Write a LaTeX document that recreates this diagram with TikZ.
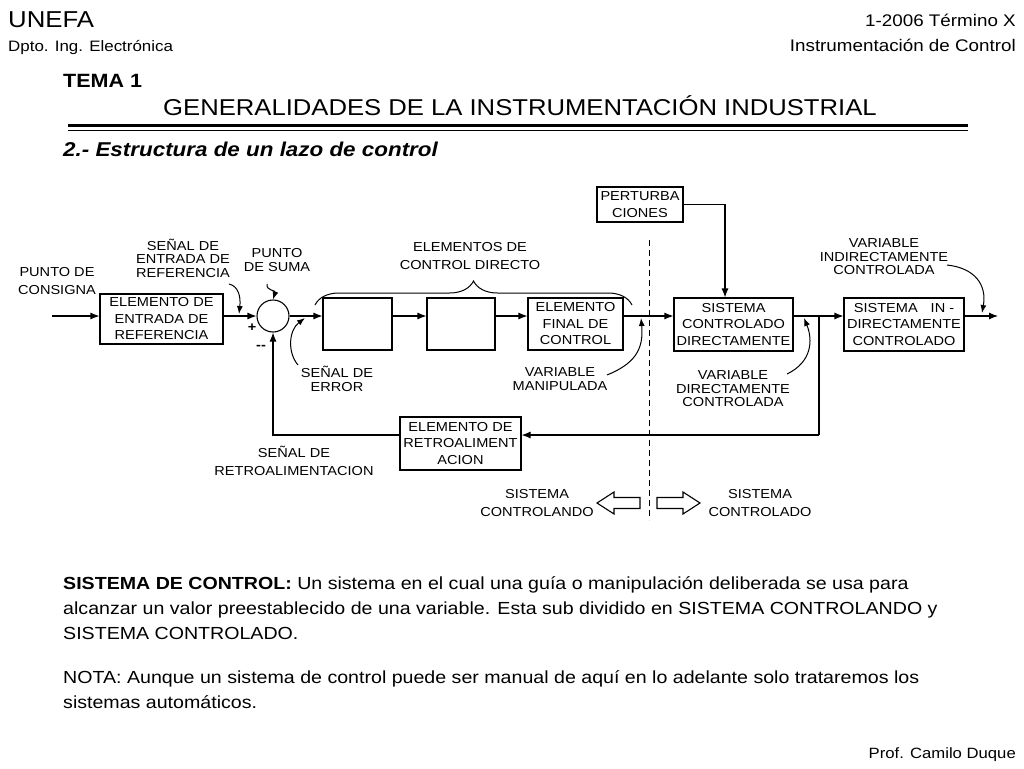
\documentclass[tikz,border=0pt]{standalone}
\usepackage{fontspec}
\setmainfont{Liberation Sans}[FakeStretch=1.12]
\usetikzlibrary{arrows.meta,decorations.pathreplacing}

\tikzset{
  lzbox/.style={draw, line width=1.1pt, inner sep=0pt, align=center, font=\fontsize{13}{16.5}\selectfont},
  lzlabel/.style={inner sep=0pt, align=center, font=\fontsize{13}{13.5}\selectfont},
  lzwide/.style={lzlabel, font=\fontsize{13}{17.5}\selectfont},
  lzedge/.style={line width=1.1pt},
  lzarrow/.style={lzedge, -{Latex[length=9pt, width=7pt]}},
  lzcurve/.style={line width=1pt, -{Latex[length=8pt, width=6pt]}},
  lztext/.style={anchor=base west, inner sep=0pt},
  lzright/.style={anchor=base east, inner sep=0pt},
  lzsign/.style={inner sep=0pt, font=\bfseries\fontsize{13}{13}\selectfont},
  lzpar/.style={lztext, font=\fontsize{17.5}{18}\selectfont}
}

\begin{document}
\begin{tikzpicture}[x=1pt, y=-1pt]
\useasboundingbox (0,0) rectangle (1024,768);

\node[lztext, font=\fontsize{23}{23}\selectfont] (unefa) at (8,28) {UNEFA};
\node[lztext, font=\fontsize{15.1}{15}\selectfont] (dpto) at (8,52) {Dpto. Ing. Electrónica};
\node[lzright, font=\fontsize{16.8}{17}\selectfont] (term) at (1016,27) {1-2006 Término X};
\node[lzright, font=\fontsize{16.8}{17}\selectfont] (curso) at (1016,52) {Instrumentación de Control};
\node[lztext, font=\bfseries\fontsize{19.2}{20}\selectfont] (tema) at (63,87) {TEMA 1};
\node[lztext, font=\fontsize{22.9}{24}\selectfont] (titulo) at (163,115) {GENERALIDADES DE LA INSTRUMENTACIÓN INDUSTRIAL};
\coordinate (rla) at (68,125.5);
\coordinate (rlb) at (968,125.5);
\coordinate (rlc) at (68,130.5);
\coordinate (rld) at (968,130.5);
\draw[line width=3.5pt] (rla) -- (rlb);
\draw[line width=1.2pt] (rlc) -- (rld);
\node[lztext, font=\bfseries\itshape\fontsize{20}{20}\selectfont] (sub) at (63,156) {2.- Estructura de un lazo de control};

\node[lzbox, minimum width=123pt, minimum height=50pt] (refin) at (161.5,319) {ELEMENTO DE\\ENTRADA DE\\REFERENCIA};
\node[draw, circle, line width=1.1pt, minimum size=32pt, inner sep=0pt] (sum) at (273,316) {};
\node[lzbox, minimum width=69pt, minimum height=52pt] (ctrla) at (357.5,324) {};
\node[lzbox, minimum width=68pt, minimum height=52pt] (ctrlb) at (461,324) {};
\node[lzbox, minimum width=95pt, minimum height=52pt] (fce) at (575.5,324) {ELEMENTO\\FINAL DE\\CONTROL};
\node[lzbox, minimum width=86pt, minimum height=35pt] (pert) at (640,204.5) {PERTURBA\\CIONES};
\node[lzbox, minimum width=119pt, minimum height=53pt] (plant) at (733.5,324.5) {SISTEMA\\CONTROLADO\\DIRECTAMENTE};
\node[lzbox, minimum width=120pt, minimum height=53pt] (plantb) at (904,324.5) {SISTEMA\quad IN -\\DIRECTAMENTE\\CONTROLADO};
\node[lzbox, minimum width=121pt, minimum height=53pt] (fbk) at (460.5,443.5) {ELEMENTO DE\\RETROALIMENT\\ACION};

\node[lzwide] (consigna) at (57,281) {PUNTO DE\\CONSIGNA};
\node[lzlabel] (lblref) at (183,258) {SEÑAL DE\\ENTRADA DE\\REFERENCIA};
\node[lzlabel] (lblsum) at (277,260) {PUNTO\\DE SUMA};
\node[lzwide] (lblctrl) at (470,256) {ELEMENTOS DE\\CONTROL DIRECTO};
\node[lzlabel] (lblerr) at (337,379) {SEÑAL DE\\ERROR};
\node[lzlabel] (lblman) at (560,379) {VARIABLE\\MANIPULADA};
\node[lzlabel] (lbldir) at (733,389) {VARIABLE\\DIRECTAMENTE\\CONTROLADA};
\node[lzlabel] (lblind) at (884,257) {VARIABLE\\INDIRECTAMENTE\\CONTROLADA};
\node[lzwide] (lblfb) at (294,461) {SEÑAL DE\\RETROALIMENTACION};
\node[lzwide] (lblcnd) at (537,503) {SISTEMA\\CONTROLANDO};
\node[lzwide] (lblcdo) at (760,503) {SISTEMA\\CONTROLADO};
\node[lzsign] (plus) at (252,328) {+};
\node[lzsign] (minus) at (261,347) {-{}-};

\coordinate (in) at (52,316);
\coordinate (br) at (819,316);
\coordinate (fbin) at (819,435);
\coordinate (pt) at (725,204.5);
\coordinate (out) at (998,316);

\draw[lzarrow] (in) -- (in -| refin.west);
\draw[lzarrow] (refin.east |- sum.west) -- (sum.west);
\draw[lzarrow] (sum.east) -- (sum.east -| ctrla.west);
\draw[lzarrow] (ctrla.east |- sum.east) -- (ctrlb.west |- sum.east);
\draw[lzarrow] (ctrlb.east |- sum.east) -- (fce.west |- sum.east);
\draw[lzarrow] (fce.east |- sum.east) -- (plant.west |- sum.east);
\draw[lzarrow] (plant.east |- sum.east) -- (plantb.west |- sum.east);
\draw[lzarrow] (plantb.east |- sum.east) -- (out);
\draw[lzarrow] (pert.east) -- (pt) -- (pt |- plant.north);
\draw[lzedge] (br) -- (fbin);
\draw[lzarrow] (fbin) -- (fbin -| fbk.east);
\draw[lzarrow] (fbk.west |- fbin) -| (sum.south);

\coordinate (refa) at (229,284);
\coordinate (suma) at (267,284);
\coordinate (erra) at (298,365);
\coordinate (mana) at (607,375);
\coordinate (dira) at (787,374);
\coordinate (inda) at (947,265);
\draw[lzcurve] (refa) .. controls (238,286) and (241,296) .. (239,314);
\draw[lzcurve] (suma) .. controls (266,291) and (276,290) .. (sum.north);
\draw[lzcurve] (erra) .. controls (287,352) and (289,330) .. (305,318);
\draw[lzcurve] (mana) .. controls (634,364) and (644,350) .. (641,318);
\draw[lzcurve] (dira) .. controls (812,362) and (813,340) .. (804,318);
\draw[lzcurve] (inda) .. controls (975,268) and (987,285) .. (982,313);

\coordinate (bra) at (315,305);
\coordinate (brb) at (632,305);
\draw[line width=1pt, decorate, decoration={brace, amplitude=24pt}] (bra) -- (brb);

\coordinate (dva) at (649,240);
\coordinate (dvb) at (649,520);
\draw[line width=1pt, dash pattern=on 6pt off 4pt] (dva) -- (dvb);

\draw[lzedge, line join=miter] (597,503) -- (614,492) -- (614,497.5) -- (640,497.5) -- (640,508.5) -- (614,508.5) -- (614,514) -- cycle;
\draw[lzedge, line join=miter] (700,503) -- (683,492) -- (683,497.5) -- (657,497.5) -- (657,508.5) -- (683,508.5) -- (683,514) -- cycle;

\node[lzpar] (par1) at (63,589) {\textbf{SISTEMA DE CONTROL:} Un sistema en el cual una guía o manipulación deliberada se usa para};
\node[lzpar] (par2) at (63,614) {alcanzar un valor preestablecido de una variable. Esta sub dividido en SISTEMA CONTROLANDO y};
\node[lzpar] (par3) at (63,639) {SISTEMA CONTROLADO.};
\node[lzpar] (nota1) at (63,683) {NOTA: Aunque un sistema de control puede ser manual de aquí en lo adelante solo trataremos los};
\node[lzpar] (nota2) at (63,708) {sistemas automáticos.};
\node[lzright, font=\fontsize{14.9}{15}\selectfont] (prof) at (1016,758) {Prof. Camilo Duque};
\end{tikzpicture}
\end{document}
